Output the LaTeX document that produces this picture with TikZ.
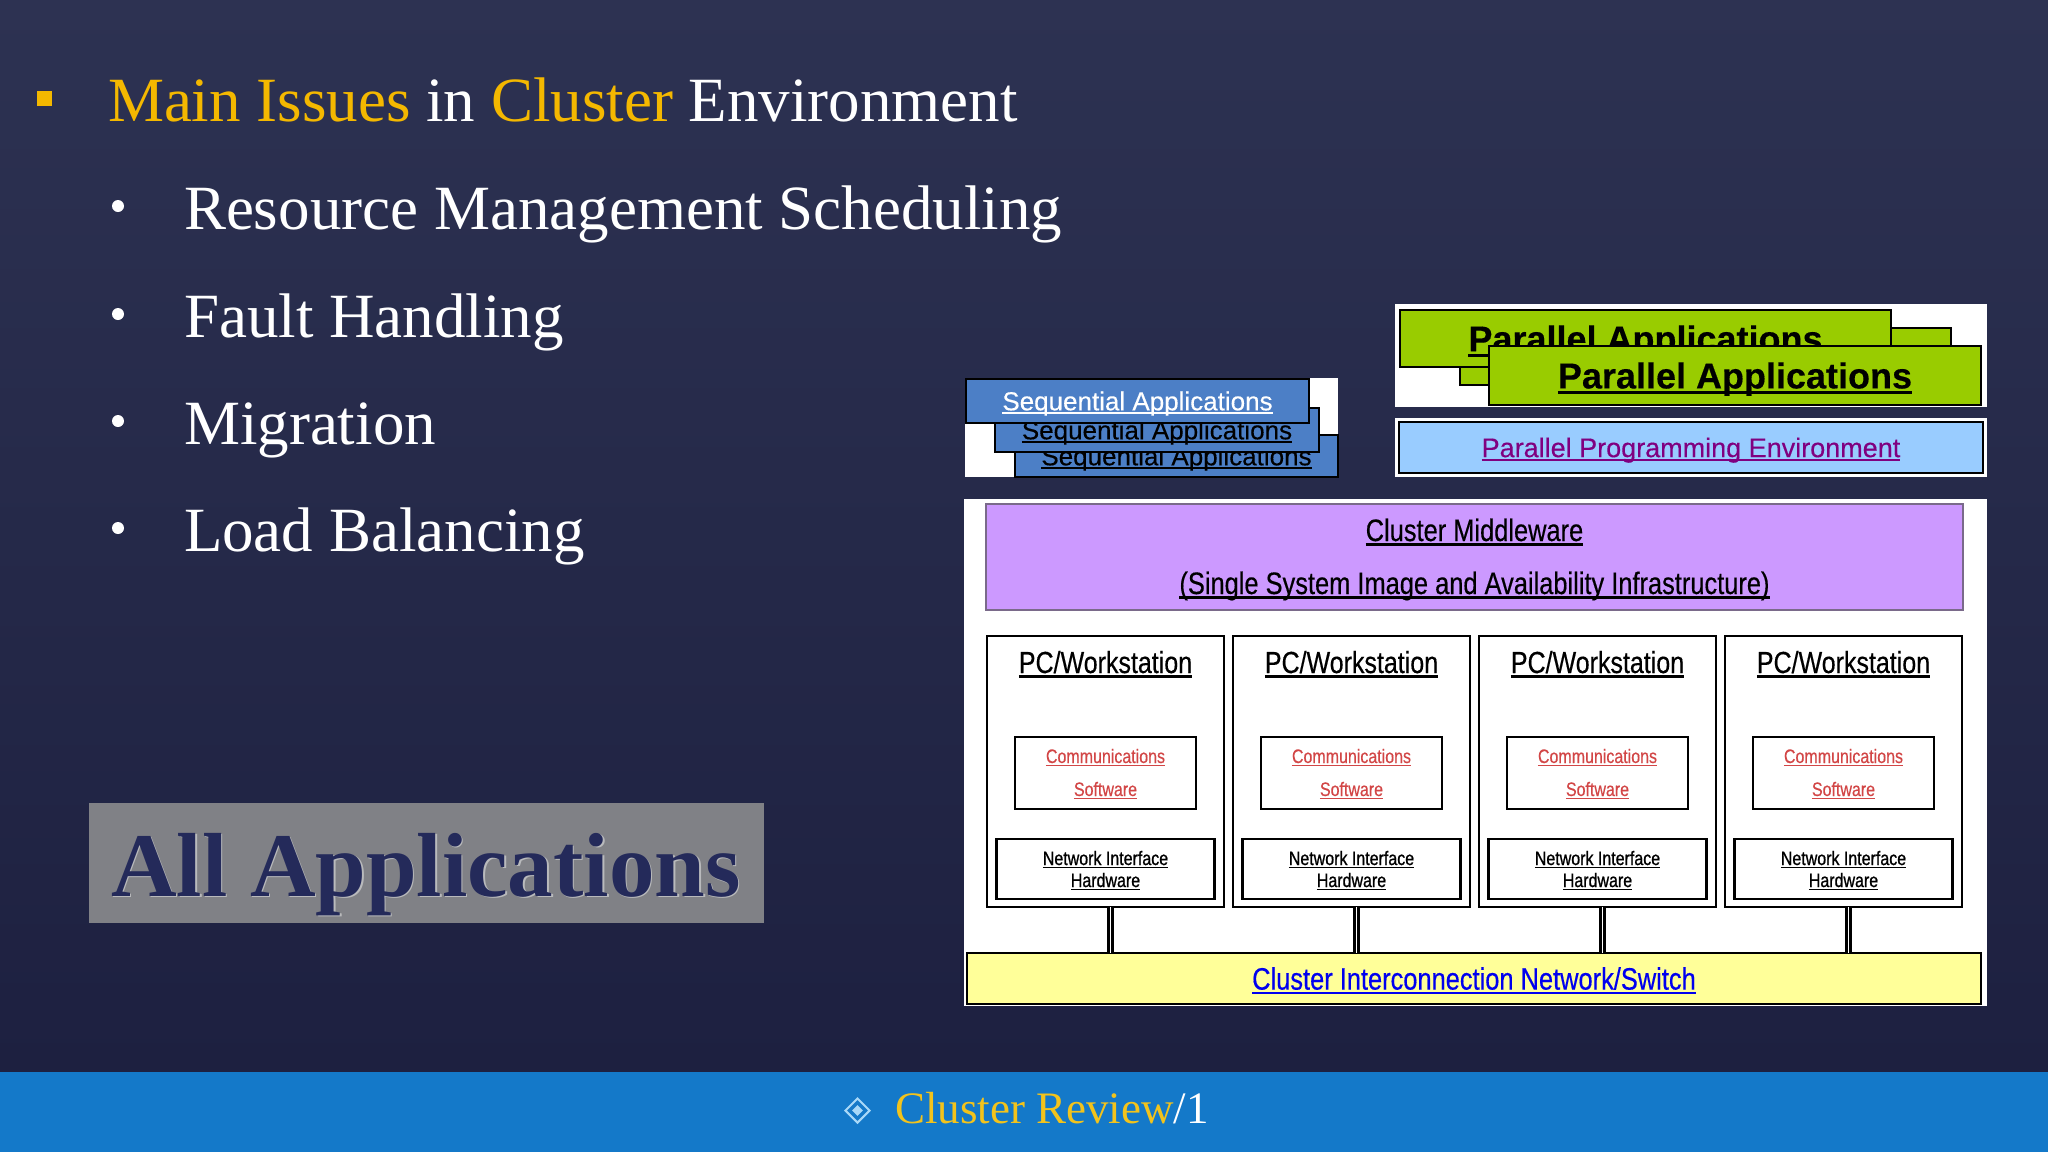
\documentclass[tikz,border=0pt]{standalone}
\usepackage{fontspec}
\setmainfont{Liberation Serif}
\newfontfamily\arialf[FakeBold=0.3]{Liberation Sans}
\newfontfamily\narrowf[FakeStretch=0.82,FakeBold=0.4]{Liberation Sans}
\newfontfamily\narrowbf[FakeStretch=0.82,FakeBold=0.9]{Liberation Sans}
\usetikzlibrary{shapes.geometric}
\newsavebox\ulbox
\newcommand\ulx[1]{\sbox\ulbox{#1}\rlap{\rule[-0.15em]{\wd\ulbox}{0.07em}}\usebox\ulbox}
\newcommand\fsz[1]{\fontsize{#1}{#1}\selectfont}
\definecolor{bgtop}{HTML}{2D3252}
\definecolor{bgbot}{HTML}{1D2040}
\definecolor{footblue}{HTML}{1479C9}
\definecolor{gold}{HTML}{F4B800}
\definecolor{footgold}{HTML}{F2C31C}
\definecolor{seqblue}{HTML}{4C7FC6}
\definecolor{pargreen}{HTML}{99CC00}
\definecolor{ppeblue}{HTML}{99CCFF}
\definecolor{ppetext}{HTML}{800080}
\definecolor{mwpurple}{HTML}{CC99FF}
\definecolor{mwborder}{HTML}{7A6A8A}
\definecolor{commred}{HTML}{D24646}
\definecolor{icyellow}{HTML}{FFFF99}
\definecolor{icblue}{HTML}{0000EE}
\definecolor{allgray}{HTML}{808186}
\definecolor{allnavy}{HTML}{242A5A}
\definecolor{diamondblue}{HTML}{A8D8F8}
\begin{document}
\begin{tikzpicture}[x=1pt,y=-1pt,
  panel/.style={fill=white, draw=none, inner sep=0pt, outer sep=0pt},
  box/.style={draw=black, line width=2.2pt, inner sep=0pt, outer sep=0pt},
  txt/.style={inner sep=0pt, outer sep=0pt},
  conn/.style={draw=black, line width=3pt, double=white, double distance=1.5pt}]
\useasboundingbox (0,0) rectangle (2048,1152);
% background
\begin{scope}[y=1pt]
  \shade[top color=bgtop, bottom color=bgbot] (0,-1072) rectangle (2048,0);
\end{scope}
\fill[footblue] (0,1072) rectangle (2048,1152);

% title and bullets
\node[fill=gold, minimum size=15pt, inner sep=0pt] (tsq) at (44.5,98) {};
\node[txt, anchor=base west, font=\fsz{63}] (title) at (108,121)
  {\textcolor{gold}{Main Issues} \textcolor{white}{in} \textcolor{gold}{Cluster} \textcolor{white}{Environment}};
\foreach \t/\y [count=\k] in {Resource Management Scheduling/229, Fault Handling/337, Migration/444, Load Balancing/551}{
  \node[circle, fill=white, minimum size=12pt, inner sep=0pt] (bul\k) at (118,\y-23) {};
  \node[txt, anchor=base west, font=\fsz{63}, text=white] (it\k) at (184,\y) {\t};
}

% All Applications
\node[fill=allgray, minimum width=675pt, minimum height=120pt, anchor=north west, inner sep=0pt] (allbox) at (89,803) {};
\node[txt, anchor=base west, font=\bfseries\fsz{91}, text=white!45!allgray] (allsh) at (112.5,897.5) {All Applications};
\node[txt, anchor=base west, font=\bfseries\fsz{91}, text=allnavy] (allt) at (111,896) {All Applications};

% footer
\node[diamond, draw=diamondblue, line width=2pt, minimum size=25pt, inner sep=0pt] (dia) at (857.5,1110.5) {};
\node[diamond, fill=diamondblue, minimum size=11pt, inner sep=0pt] (diain) at (857.5,1110.5) {};
\node[txt, anchor=base west, font=\fsz{45}] (foot) at (895,1123)
  {\textcolor{footgold}{Cluster Review}\textcolor{white}{/1}};

% Sequential applications
\node[panel, minimum width=373pt, minimum height=99pt] (seqbg) at (1151.5,427.5) {};
\node[box, fill=seqblue, minimum width=323pt, minimum height=42pt, font=\arialf\fsz{26}, text height=18.6pt, text depth=0pt] (seq3) at (1176.5,456) {\ulx{Sequential Applications}};
\node[box, fill=seqblue, minimum width=324pt, minimum height=44pt, font=\arialf\fsz{26}, text height=18.6pt, text depth=0pt] (seq2) at (1157,430) {\ulx{Sequential Applications}};
\node[box, fill=seqblue, minimum width=343pt, minimum height=44pt, font=\arialf\fsz{26}, text height=18.6pt, text depth=0pt, text=white] (seq1) at (1137.5,401) {\ulx{Sequential Applications}};

% Parallel applications
\node[panel, minimum width=592pt, minimum height=103pt] (parbg) at (1691,355.5) {};
\node[box, fill=pargreen, minimum width=491pt, minimum height=57pt] (parB) at (1705.5,356.5) {};
\node[box, fill=pargreen, minimum width=491pt, minimum height=57pt, font=\arialf\bfseries\fsz{36}, text height=25.8pt, text depth=0pt] (parA) at (1645.5,338.5) {\ulx{Parallel Applications}};
\node[box, fill=pargreen, minimum width=492pt, minimum height=59pt, font=\arialf\bfseries\fsz{36}, text height=25.8pt, text depth=0pt] (parC) at (1735,375.5) {\ulx{Parallel Applications}};

% Parallel programming environment
\node[panel, minimum width=592pt, minimum height=59pt] (ppebg) at (1691,447.5) {};
\node[box, fill=ppeblue, minimum width=584pt, minimum height=51pt, font=\arialf\fsz{27}, text height=19.3pt, text depth=0pt, text=ppetext] (ppe) at (1691,447.5) {\ulx{Parallel Programming Environment}};

% main panel
\node[panel, minimum width=1023pt, minimum height=507pt] (mainbg) at (1475.5,752.5) {};
\node[box, draw=mwborder, fill=mwpurple, minimum width=977pt, minimum height=106pt] (mw) at (1474.5,557) {};
\node[txt, anchor=base, font=\narrowf\fsz{31}] (mwt1) at (1474.5,541) {\ulx{Cluster Middleware}};
\node[txt, anchor=base, font=\narrowf\fsz{31}] (mwt2) at (1474.5,594) {\ulx{(Single System Image and Availability Infrastructure)}};

\node[box, fill=icyellow, minimum width=1014pt, minimum height=51pt, font=\narrowf\fsz{31}, text height=22.2pt, text depth=0pt, text=icblue] (ic) at (1474,978.5) {\ulx{Cluster Interconnection Network/Switch}};

\foreach \i/\x in {1/987,2/1233,3/1479,4/1725}{
  \pgfmathsetmacro\cx{\x+118.5}
  \node[box, minimum width=237pt, minimum height=271pt, anchor=north west] (pc\i) at (\x,636) {};
  \node[txt, anchor=base, font=\narrowf\fsz{30.5}] (pct\i) at (\cx,673) {\ulx{PC/Workstation}};
  \node[box, minimum width=181pt, minimum height=72pt] (cs\i) at (\cx,773) {};
  \node[txt, anchor=base, font=\narrowf\fsz{19.5}, text=commred] (cst\i) at (\cx,763) {\ulx{Communications}};
  \node[txt, anchor=base, font=\narrowf\fsz{19.5}, text=commred] (csu\i) at (\cx,796) {\ulx{Software}};
  \node[box, minimum width=218pt, minimum height=60pt] (ni\i) at (\cx,869) {};
  \node[txt, anchor=base, font=\narrowbf\fsz{19.5}] (nit\i) at (\cx,865) {\ulx{Network Interface}};
  \node[txt, anchor=base, font=\narrowbf\fsz{19.5}] (niu\i) at (\cx,887) {\ulx{Hardware}};
  \coordinate (ct\i) at ([xshift=5pt]pc\i.south);
  \draw[conn] (ct\i) -- (ct\i |- ic.north);
}
\end{tikzpicture}
\end{document}
